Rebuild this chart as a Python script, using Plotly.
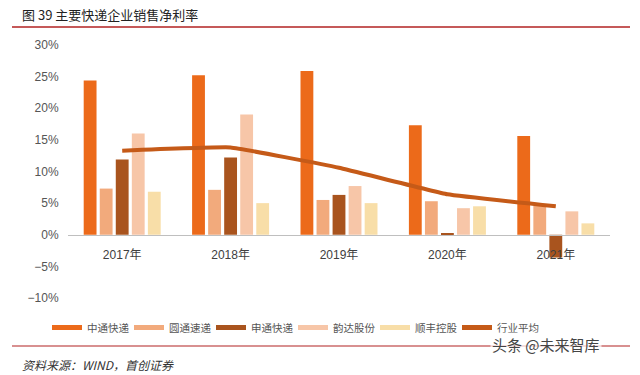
import plotly.graph_objects as go

years = ["2017年", "2018年", "2019年", "2020年", "2021年"]
zto = [24.4, 25.2, 25.9, 17.3, 15.6]
yto = [7.3, 7.1, 5.5, 5.3, 4.6]
sto = [11.9, 12.2, 6.3, 0.2, -3.6]
yunda = [16.0, 19.0, 7.7, 4.2, 3.7]
sf = [6.8, 5.0, 5.0, 4.5, 1.8]
avg = [13.3, 13.8, 10.6, 6.4, 4.5]

names = ["中通快递", "圆通速递", "申通快递", "韵达股份", "顺丰控股", "行业平均"]
colors = ["#EC6A1A", "#F2AA7C", "#A9541E", "#F7C6A8", "#F8DEA8", "#C55A18"]

fig = go.Figure()
for name, vals, c in zip(names[:5], [zto, yto, sto, yunda, sf], colors[:5]):
    fig.add_trace(go.Bar(x=years, y=vals, name=name, marker_color=c, marker_line_width=0,
                         showlegend=False, legendgroup=name))
fig.add_trace(go.Scatter(x=years, y=avg, name=names[5], mode="lines", showlegend=False,
                         legendgroup=names[5],
                         line=dict(color=colors[5], width=4, shape="spline", smoothing=0.25)))
# legend entries drawn as wide flat swatches
for name, c in zip(names, colors):
    fig.add_trace(go.Scatter(x=[None], y=[None], name=name, mode="lines", legendgroup=name,
                             line=dict(color=c, width=5)))

font = "Liberation Sans, Arial, Noto Sans CJK SC, sans-serif"


def px(xp):
    return (xp - 68) / 542


def py(yp):
    return (298 - yp) / 253


fig.update_layout(
    width=640, height=375,
    margin=dict(l=68, r=30, t=45, b=77, autoexpand=False),
    plot_bgcolor="white", paper_bgcolor="white",
    barmode="group", bargap=0.26, bargroupgap=0.2,
    font=dict(family=font, size=12, color="#555555"),
    showlegend=True,
    legend=dict(orientation="h", x=px(47), xref="paper", xanchor="left", y=py(313), yanchor="top",
                font=dict(size=10.5, color="#555555", family="Noto Sans CJK SC"),
                itemwidth=30, entrywidth=37, tracegroupgap=0),
    xaxis=dict(anchor="free", position=0.25, showline=True, linecolor="#BFBFBF", linewidth=1,
               ticks="", showgrid=False, tickfont=dict(size=12, color="#404040"),
               ticklabelstandoff=9),
    yaxis=dict(range=[-10, 30], dtick=5, ticksuffix="%", showgrid=False, zeroline=False,
               showline=False, tickfont=dict(size=12, color="#555555"), ticklen=6, ticks="outside",
               tickcolor="white"),
)

fig.add_annotation(text="图 39 主要快递企业销售净利率", xref="paper", yref="paper",
                   x=px(20), y=py(14), showarrow=False, xanchor="left", yanchor="middle",
                   font=dict(size=13, color="#222222", family="Noto Sans CJK SC"))
fig.add_shape(type="line", xref="paper", yref="paper", x0=px(12), x1=px(630), y0=py(27), y1=py(27),
              line=dict(color="#B22222", width=1.5))
fig.add_shape(type="line", xref="paper", yref="paper", x0=px(12), x1=px(630), y0=py(346), y1=py(346),
              line=dict(color="#B22222", width=1.2))
fig.add_annotation(text="<i>资料来源：WIND，首创证券</i>", xref="paper", yref="paper",
                   x=px(20), y=py(364), showarrow=False, xanchor="left", yanchor="middle",
                   font=dict(size=12, color="#333333", family="Noto Sans CJK SC"))
fig.add_annotation(text="头条 @未来智库", xref="paper", yref="paper",
                   x=px(602), y=py(344), showarrow=False, xanchor="right", yanchor="middle",
                   font=dict(size=15, color="#444444", family="Noto Sans CJK SC"),
                   bgcolor="rgba(255,255,255,0.7)")

fig.write_html("out.html", config={"displayModeBar": False},
               post_script="document.body.style.margin='0';")
